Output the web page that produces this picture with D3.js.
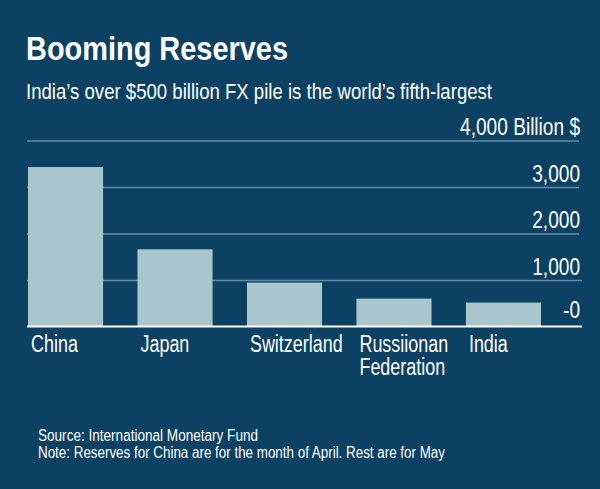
<!DOCTYPE html>
<html><head><meta charset="utf-8">
<script src="https://cdn.jsdelivr.net/npm/d3@7"></script>
<style>
html,body{margin:0;padding:0;background:#0c4163;}
svg{display:block;}
text{font-family:"Liberation Sans",Arial,sans-serif;fill:#fff;}
</style></head>
<body>
<svg id="chart" width="600" height="489"></svg>
<script>
const categories = ["China", "Japan", "Switzerland", "Russiionan\nFederation", "India"];
const values = [3440, 1670, 955, 610, 525];
const tickValues = [0, 1000, 2000, 3000, 4000];
const tickLabels = ["-0", "1,000", "2,000", "3,000", "4,000 Billion $"];
const title = "Booming Reserves";
const subtitle = "India\u2019s over $500 billion FX pile is the world\u2019s fifth-largest";
const notes = ["Source: International Monetary Fund", "Note: Reserves for China are for the month of April. Rest are for May"];

const FONT = '"Liberation Sans",Arial,sans-serif';
function condense(sel, k){
  sel.each(function(){
    const w = this.getComputedTextLength();
    d3.select(this).attr("textLength", w*k).attr("lengthAdjust","spacingAndGlyphs");
  });
}

const svg = d3.select("#chart");
svg.append("rect").attr("width",600).attr("height",489).attr("fill","#0c4163");

const x = d3.scaleBand().domain(categories).range([28, 541]).paddingInner(0.314).paddingOuter(0);
const y = d3.scaleLinear().domain([0, 4000]).range([327, 141]);

// title
svg.append("text").attr("x",26).attr("y",59.5).attr("font-size",34).attr("font-weight","bold")
  .attr("textLength",262).attr("lengthAdjust","spacingAndGlyphs").text(title);
svg.append("text").attr("x",26).attr("y",99).attr("font-size",22.3)
  .attr("textLength",466).attr("lengthAdjust","spacingAndGlyphs").text(subtitle);

// gridlines
svg.append("g").selectAll("line").data(tickValues.filter(d=>d>0)).join("line")
  .attr("x1",27).attr("x2",d=>d===1000?582:579).attr("y1",d=>y(d)).attr("y2",d=>y(d))
  .attr("stroke","#628ba5").attr("stroke-width",1.5);

// bars
svg.append("g").selectAll("rect").data(values).join("rect")
  .attr("x",(d,i)=>x(categories[i])).attr("width",x.bandwidth())
  .attr("y",d=>y(d)).attr("height",d=>y(0)-y(d)).attr("fill","#a9c6cd");

// baseline
svg.append("line").attr("x1",27).attr("x2",582).attr("y1",y(0)-0.5).attr("y2",y(0)-0.5)
  .attr("stroke","#ffffff").attr("stroke-width",2);

// y axis labels
const yAxis = d3.axisRight(y).tickValues(tickValues).tickFormat((d,i)=>tickLabels[i]).tickSize(0);
const ga = svg.append("g").attr("transform","translate(580,0)").call(yAxis);
ga.select(".domain").remove();
ga.selectAll("text").attr("x",0).attr("dy",0).attr("y",d=>d===0?-10:-6.5).attr("text-anchor","end")
  .attr("font-size",23).attr("fill","#fff").style("font-family",FONT);
condense(ga.selectAll("text"), 0.83);

// category labels
const cl = svg.append("g").selectAll("text").data(categories).join("text")
  .attr("x",d=>x(d)+3).attr("y",352).attr("font-size",23.3);
cl.each(function(d){
  const lines = d.split("\n");
  d3.select(this).selectAll("tspan").data(lines).join("tspan")
    .attr("x",x(d)+3).attr("dy",(l,i)=>i===0?0:22.5).text(l=>l);
});
cl.selectAll("tspan").each(function(){
  const w = this.getComputedTextLength();
  d3.select(this).attr("textLength", w*0.77).attr("lengthAdjust","spacingAndGlyphs");
});

// notes
const noteWidths = [220, 407];
svg.append("g").selectAll("text").data(notes).join("text")
  .attr("x",38).attr("y",(d,i)=>440.7+i*16.8).attr("font-size",16)
  .attr("textLength",(d,i)=>noteWidths[i]).attr("lengthAdjust","spacingAndGlyphs").text(d=>d);
</script>
</body></html>
